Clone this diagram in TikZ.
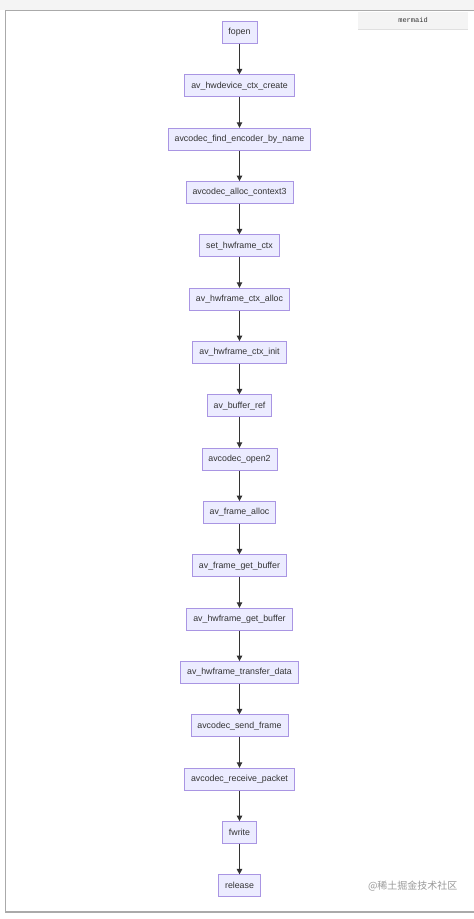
\documentclass[tikz,border=0pt]{standalone}
\usepackage{fontspec}
\setmainfont{Liberation Sans}
\setmonofont{Liberation Mono}
\newfontfamily\cjkfont{Noto Sans CJK SC}
\usetikzlibrary{arrows.meta}
\definecolor{nodefill}{HTML}{ECECFF}
\definecolor{nodeborder}{HTML}{A995E3}
\definecolor{edgecol}{HTML}{333333}
\definecolor{framecol}{HTML}{AAAAAA}
\definecolor{stripcol}{HTML}{F4F4F4}
\begin{document}
\begin{tikzpicture}[x=1pt,y=-1pt,
  stepbox/.style={draw=nodeborder,fill=nodefill,line width=0.8pt,minimum height=22pt,inner xsep=6.5pt,inner ysep=0pt,font=\fontsize{8.8}{10}\selectfont,text=edgecol},
  flow/.style={draw=edgecol,line width=0.9pt,-{Triangle[length=5.5pt,width=5.5pt]}}]
\useasboundingbox (0,0) rectangle (474,919);
% page chrome
\fill[stripcol] (0,0) rectangle (474,10);
\draw[framecol,line width=1.2pt] (474,10.6) -- (5.6,10.6) -- (5.6,912) -- (474,912);
\node[fill=stripcol,draw=none,minimum width=110pt,minimum height=17pt,inner sep=0pt,font=\ttfamily\fontsize{7}{8}\selectfont,text=edgecol] (lang) at (413,20.5) {mermaid};
\draw[black!12,line width=0.6pt] (lang.south west) -- (lang.south east);
\node[font=\cjkfont\fontsize{10}{12}\selectfont,text=black!40,anchor=east] (wm) at (461,886) {@稀土掘金技术社区};
% nodes
\node[stepbox] (n1) at (239.5,32.5) {fopen};
\node[stepbox] (n2) at (239.5,85.8) {av\_hwdevice\_ctx\_create};
\node[stepbox] (n3) at (239.5,139.2) {avcodec\_find\_encoder\_by\_name};
\node[stepbox] (n4) at (239.5,192.5) {avcodec\_alloc\_context3};
\node[stepbox] (n5) at (239.5,245.8) {set\_hwframe\_ctx};
\node[stepbox] (n6) at (239.5,299.2) {av\_hwframe\_ctx\_alloc};
\node[stepbox] (n7) at (239.5,352.5) {av\_hwframe\_ctx\_init};
\node[stepbox] (n8) at (239.5,405.8) {av\_buffer\_ref};
\node[stepbox] (n9) at (239.5,459.2) {avcodec\_open2};
\node[stepbox] (n10) at (239.5,512.5) {av\_frame\_alloc};
\node[stepbox] (n11) at (239.5,565.8) {av\_frame\_get\_buffer};
\node[stepbox] (n12) at (239.5,619.2) {av\_hwframe\_get\_buffer};
\node[stepbox] (n13) at (239.5,672.5) {av\_hwframe\_transfer\_data};
\node[stepbox] (n14) at (239.5,725.8) {avcodec\_send\_frame};
\node[stepbox] (n15) at (239.5,779.2) {avcodec\_receive\_packet};
\node[stepbox] (n16) at (239.5,832.5) {fwrite};
\node[stepbox] (n17) at (239.5,885.8) {release};
% edges
\foreach \a/\b in {n1/n2,n2/n3,n3/n4,n4/n5,n5/n6,n6/n7,n7/n8,n8/n9,n9/n10,n10/n11,n11/n12,n12/n13,n13/n14,n14/n15,n15/n16,n16/n17}
  \draw[flow] (\a) -- (\b);
\end{tikzpicture}
\end{document}
